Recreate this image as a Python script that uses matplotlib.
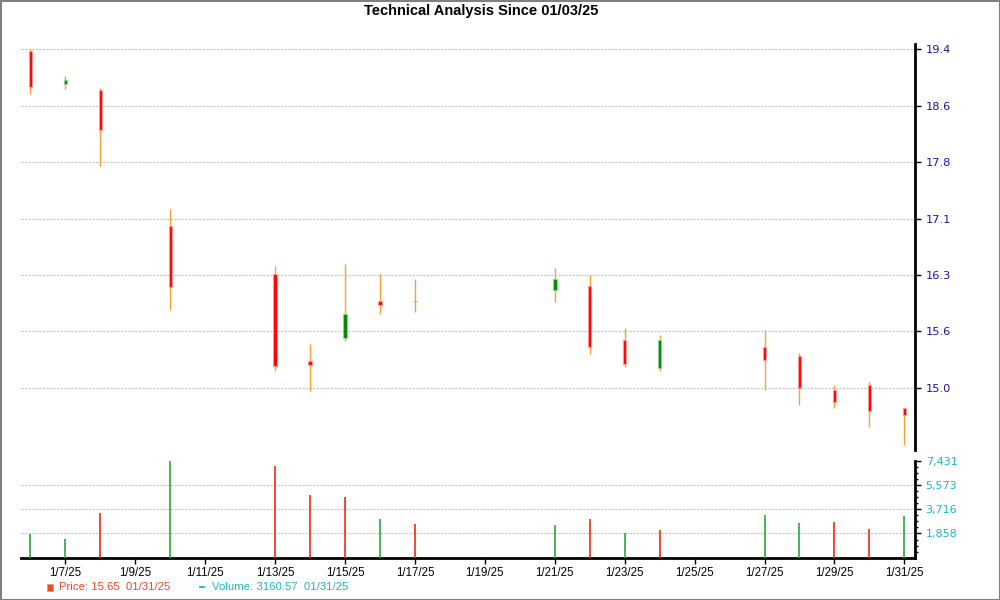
import matplotlib
matplotlib.use('Agg')
import matplotlib.pyplot as plt
import matplotlib.dates as mdates
from matplotlib.patches import Rectangle
from matplotlib.ticker import FixedLocator, FixedFormatter, FuncFormatter, NullLocator

# ---------------- data ----------------
dates = ['2025-01-06', '2025-01-07', '2025-01-08', '2025-01-10', '2025-01-13', '2025-01-14',
         '2025-01-15', '2025-01-16', '2025-01-17', '2025-01-21', '2025-01-22', '2025-01-23',
         '2025-01-24', '2025-01-27', '2025-01-28', '2025-01-29', '2025-01-30', '2025-01-31']
opens = [19.37, 18.89, 18.80, 16.95, 16.35, 15.30, 15.57, 16.02, 16.01, 16.15, 16.20, 15.55,
         15.22, 15.46, 15.36, 14.97, 15.02, 14.76]
highs = [19.40, 19.00, 18.83, 17.17, 16.45, 15.50, 16.47, 16.35, 16.28, 16.42, 16.34, 15.69,
         15.61, 15.66, 15.39, 15.03, 15.06, 14.76]
lows = [18.74, 18.82, 17.74, 15.90, 15.19, 14.96, 15.53, 15.86, 15.88, 16.00, 15.38, 15.23,
        15.18, 14.97, 14.80, 14.76, 14.55, 14.35]
closes = [18.84, 18.94, 18.24, 16.19, 15.24, 15.25, 15.86, 15.97, 16.01, 16.29, 15.46, 15.27,
          15.55, 15.31, 14.99, 14.83, 14.73, 14.69]
volumes = [1793, 1410, 3424, 7431, 7024, 4803, 4627, 2941, 2581, 2482, 2964, 1892, 2122,
           3271, 2658, 2735, 2198, 3161]
volume_up = [True, True, False, True, False, False, False, True, False, True, False, True,
             False, True, True, False, False, True]

price_tick_values = [14.99, 15.65, 16.34, 17.05, 17.80, 18.58, 19.40]
price_tick_labels = ['15.0', '15.6', '16.3', '17.1', '17.8', '18.6', '19.4']
volume_tick_values = [1858, 3716, 5573, 7431]
volume_tick_labels = ['1,858', '3,716', '5,573', '7,431']

title = 'Technical Analysis Since 01/03/25'
legend_price = 'Price: 15.65  01/31/25'
legend_volume = 'Volume: 3160.57  01/31/25'

# ---------------- styles ----------------
RED = '#ff0000'
RED_EDGE = '#ff9a9a'
GREEN = '#008a00'
GREEN_EDGE = '#8fd08f'
WICK = '#f5a030'
VOL_RED = '#f02a10'
VOL_GREEN = '#22aa3c'
GRID = '#c4c4c4'
PRICE_LABEL = '#2a0aa8'
VOL_LABEL = '#1fb5c2'
DASH = (0, (2.0, 1.2))

fig = plt.figure(figsize=(10, 6), dpi=100)
W, H = 1000.0, 600.0
left_px, right_px = 21.0, 914.5
ax = fig.add_axes([left_px / W, 1 - 450 / H, (right_px - left_px) / W, (450 - 44) / H])
axv = fig.add_axes([left_px / W, 1 - 557.7 / H, (right_px - left_px) / W, (557.7 - 460.7) / H],
                   sharex=ax)

x = mdates.datestr2num(dates)
body_w = 0.1

for xi, o, h, l, c in zip(x, opens, highs, lows, closes):
    ax.vlines(xi, l, h, color=WICK, lw=1.0, zorder=2)
    up = c >= o
    face = GREEN if up else RED
    edge = GREEN_EDGE if up else RED_EDGE
    ax.add_patch(Rectangle((xi - body_w / 2, min(o, c)), body_w, abs(c - o),
                           facecolor=face, edgecolor=edge, lw=0.8, zorder=3))

ax.set_yscale('log')
ax.set_ylim(14.30, 19.47)
ax.set_xlim(mdates.datestr2num('2025-01-06') - 0.27, mdates.datestr2num('2025-01-31') + 0.29)
ax.yaxis.set_major_locator(FixedLocator(price_tick_values))
ax.yaxis.set_major_formatter(FixedFormatter(price_tick_labels))
ax.yaxis.set_minor_locator(NullLocator())
ax.yaxis.tick_right()
ax.tick_params(axis='y', which='major', direction='out', length=4, width=1, pad=4,
               labelsize=8.2, labelcolor=PRICE_LABEL, colors='black')
for lab in ax.get_yticklabels():
    lab.set_color(PRICE_LABEL)
ax.tick_params(axis='x', which='both', bottom=False, labelbottom=False)
for s in ['left', 'top', 'bottom']:
    ax.spines[s].set_visible(False)
ax.spines['right'].set_linewidth(2)
for v in price_tick_values:
    ax.axhline(v, color=GRID, lw=0.8, ls=DASH, zorder=1)

# volume
vcolors = [VOL_GREEN if u else VOL_RED for u in volume_up]
axv.vlines(x, 0, volumes, colors=vcolors, lw=1.2, zorder=3)
axv.set_ylim(0, volume_tick_values[-1])
axv.yaxis.tick_right()
axv.yaxis.set_major_locator(FixedLocator(volume_tick_values))
axv.yaxis.set_major_formatter(FixedFormatter(volume_tick_labels))
axv.yaxis.set_minor_locator(FixedLocator([volume_tick_values[0] / 4 * k for k in range(1, 16) if k % 4]))
axv.tick_params(axis='y', which='major', direction='out', length=4, width=1, pad=4,
                labelsize=8, labelcolor=VOL_LABEL)
axv.tick_params(axis='y', which='minor', direction='out', length=2.5, width=1)
for v in volume_tick_values[:-1]:
    axv.axhline(v, color=GRID, lw=0.8, ls=DASH, zorder=1)
for s in ['left', 'top']:
    axv.spines[s].set_visible(False)
axv.spines['right'].set_linewidth(2)
axv.spines['bottom'].set_linewidth(2)

xt = [mdates.datestr2num('2025-01-%02d' % d) for d in range(7, 32, 2)]
axv.xaxis.set_major_locator(FixedLocator(xt))
axv.xaxis.set_minor_locator(NullLocator())


def fmt_date(val, pos=None):
    d = mdates.num2date(val)
    return '%d/%d/%s' % (d.month, d.day, d.strftime('%y'))


axv.xaxis.set_major_formatter(FuncFormatter(fmt_date))
axv.tick_params(axis='x', direction='out', length=4, width=1, pad=3)
for lab in axv.get_xticklabels():
    lab.set_fontfamily('Liberation Sans')
    lab.set_fontsize(8.3)

# title
fig.text(481 / W, 1 - 10.5 / H, title, ha='center', va='center', fontsize=10.5,
         fontweight='bold', family='Liberation Sans')

# legend
fig.patches.append(Rectangle((46.5 / W, 1 - 590.5 / H), 6 / W, 7 / H, transform=fig.transFigure,
                             facecolor='#f04a1a', edgecolor='#f79070', lw=0.6))
fig.text(59 / W, 1 - 587 / H, legend_price, ha='left', va='center', fontsize=8.2,
         color='#f0452a', family='Liberation Sans')
fig.lines.append(plt.Line2D([199.5 / W, 203.5 / W], [1 - 587 / H, 1 - 587 / H],
                            transform=fig.transFigure, color=VOL_LABEL, lw=1.3))
fig.text(211.5 / W, 1 - 587 / H, legend_volume, ha='left', va='center', fontsize=8.2,
         color=VOL_LABEL, family='Liberation Sans')

# border
fig.patches.append(Rectangle((0, 0), 1, 1, transform=fig.transFigure, fill=False,
                             edgecolor='#808080', lw=2.2))

fig.savefig('out.png', dpi=100)
